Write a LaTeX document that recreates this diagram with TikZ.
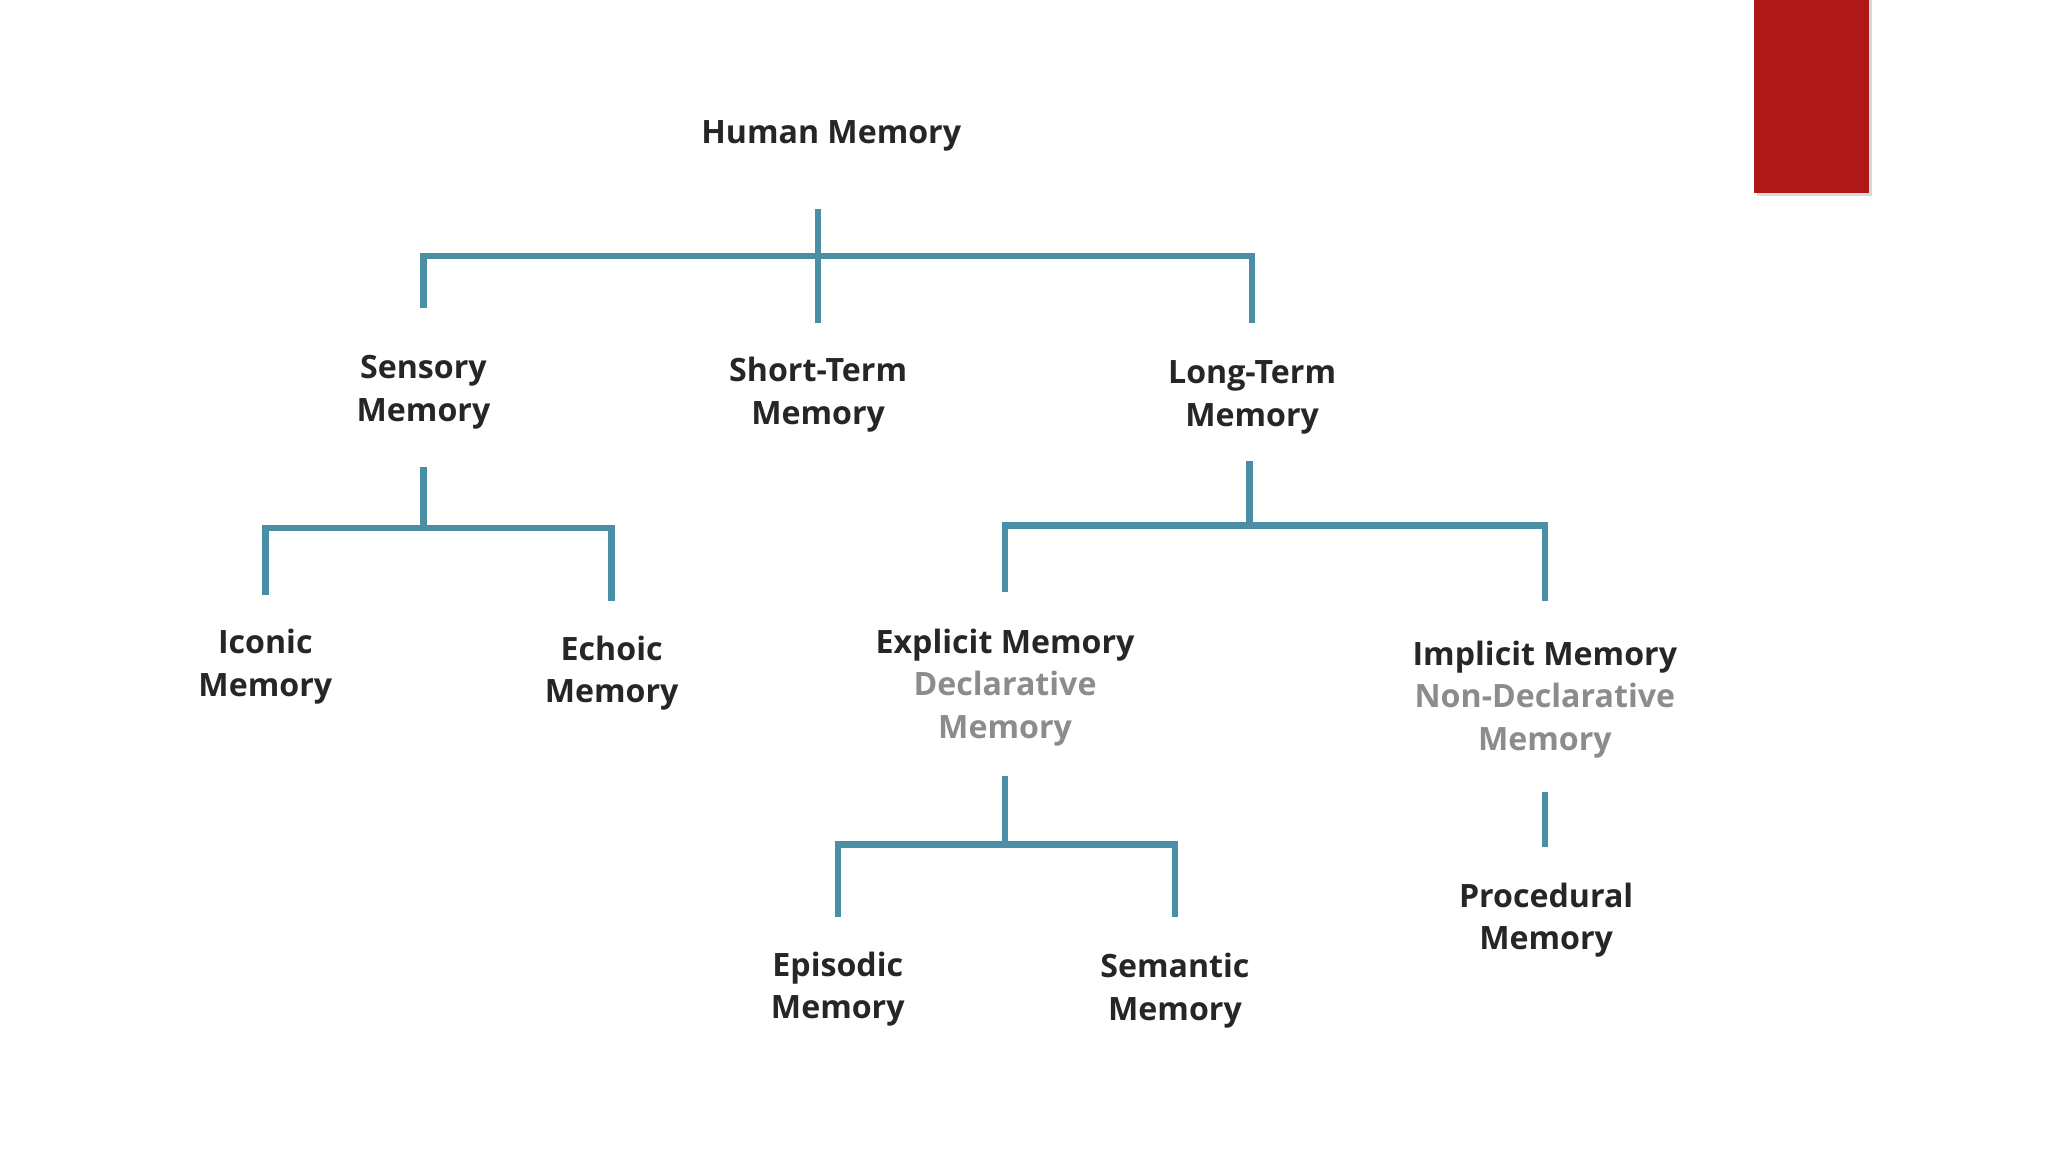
\documentclass[tikz,border=0pt]{standalone}
\usepackage{fontspec}
\setmainfont{Open Sans}
\usetikzlibrary{positioning}
\definecolor{branch}{RGB}{74,143,165}
\definecolor{slide}{RGB}{176,24,24}
\definecolor{subtext}{RGB}{140,140,140}
\tikzset{
	label/.style={align=center, font=\fontsize{14}{18.5}\selectfont\bfseries, text=black!85},
	sub/.style={text=subtext},
	tree/.style={branch, line width=2.8pt}
}
\begin{document}
\begin{tikzpicture}[x=0.02cm,y=-0.02cm]
	\useasboundingbox (0,0) rectangle (1567,881);
	\fill[black!15] (1344,0) rectangle (1432,150);
	\fill[slide] (1342,0) rectangle (1430,148);
	% labels
	\node[label] (hum) at (636,104) {Human Memory};
	\node[label] (sen) at (324,300) {Sensory\\Memory};
	\node[label] (sho) at (626,302) {Short-Term\\Memory};
	\node[label] (lon) at (958,304) {Long-Term\\Memory};
	\node[label] (ico) at (203,510) {Iconic\\Memory};
	\node[label] (ech) at (468,515) {Echoic\\Memory};
	\node[label] (exp) at (769,526) {Explicit Memory\\{\color{subtext}Declarative}\\{\color{subtext}Memory}};
	\node[label] (imp) at (1182,535) {Implicit Memory\\{\color{subtext}Non-Declarative}\\{\color{subtext}Memory}};
	\node[label] (epi) at (641,757) {Episodic\\Memory};
	\node[label] (sem) at (899,758) {Semantic\\Memory};
	\node[label] (pro) at (1183,704) {Procedural\\Memory};
	% junctions
	\coordinate (j1) at (626,196);
	\coordinate (j2) at (324,404);
	\coordinate (j3) at (956,402);
	\coordinate (j4) at (769,646);
	% branches
	\draw[tree] (626,160) -- (j1);
	\draw[tree] (324,236) |- (j1) -| (958,247);
	\draw[tree] (j1) -- (626,247);
	\draw[tree] (324,357) -- (j2);
	\draw[tree] (203,455) |- (j2) -| (468,460);
	\draw[tree] (956,353) -- (j3);
	\draw[tree] (769,453) |- (j3) -| (1182,460);
	\draw[tree] (769,594) -- (j4);
	\draw[tree] (641,702) |- (j4) -| (899,702);
	\draw[tree] (1182,606) -- (1182,648);
\end{tikzpicture}
\end{document}
